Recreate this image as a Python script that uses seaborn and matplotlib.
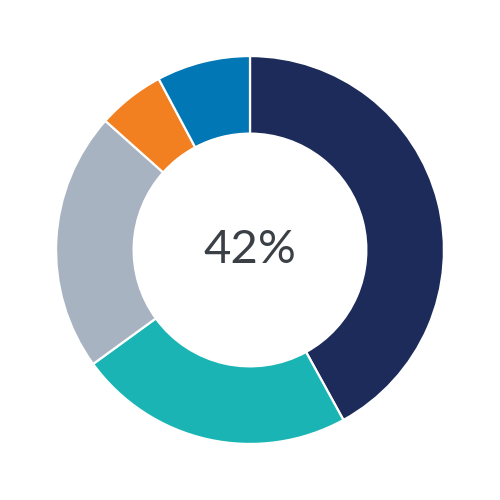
import matplotlib
matplotlib.use("Agg")
import matplotlib.pyplot as plt
import seaborn as sns

# slice shares in percent, clockwise from 12 o'clock
segments = ["Navy", "Teal", "Gray", "Orange", "Blue"]
shares = [42, 23, 21.6, 5.6, 7.8]
colors = ["#1c2b5a", "#1ab4b4", "#a8b3c2", "#f28021", "#0277b5"]
center_label = "42%"

sns.set_style("white")
plt.rcParams['font.family'] = ['Lato', 'DejaVu Sans']

fig = plt.figure(figsize=(5, 5), dpi=100)
ax = fig.add_axes([0, 0, 1, 1])
ax.pie(shares, colors=sns.color_palette(colors), startangle=90, counterclock=False,
       radius=1.0, wedgeprops=dict(width=0.4, edgecolor='white', linewidth=1.6))
ax.text(0, 0.0, center_label, ha='center', va='center', fontsize=34,
        color='#3b4046', fontweight='normal')
ax.set_xlim(-1.289, 1.289)
ax.set_ylim(-1.289, 1.289)
ax.set_aspect('equal')
ax.axis('off')

fig.savefig("out.png", dpi=100, facecolor='white')
